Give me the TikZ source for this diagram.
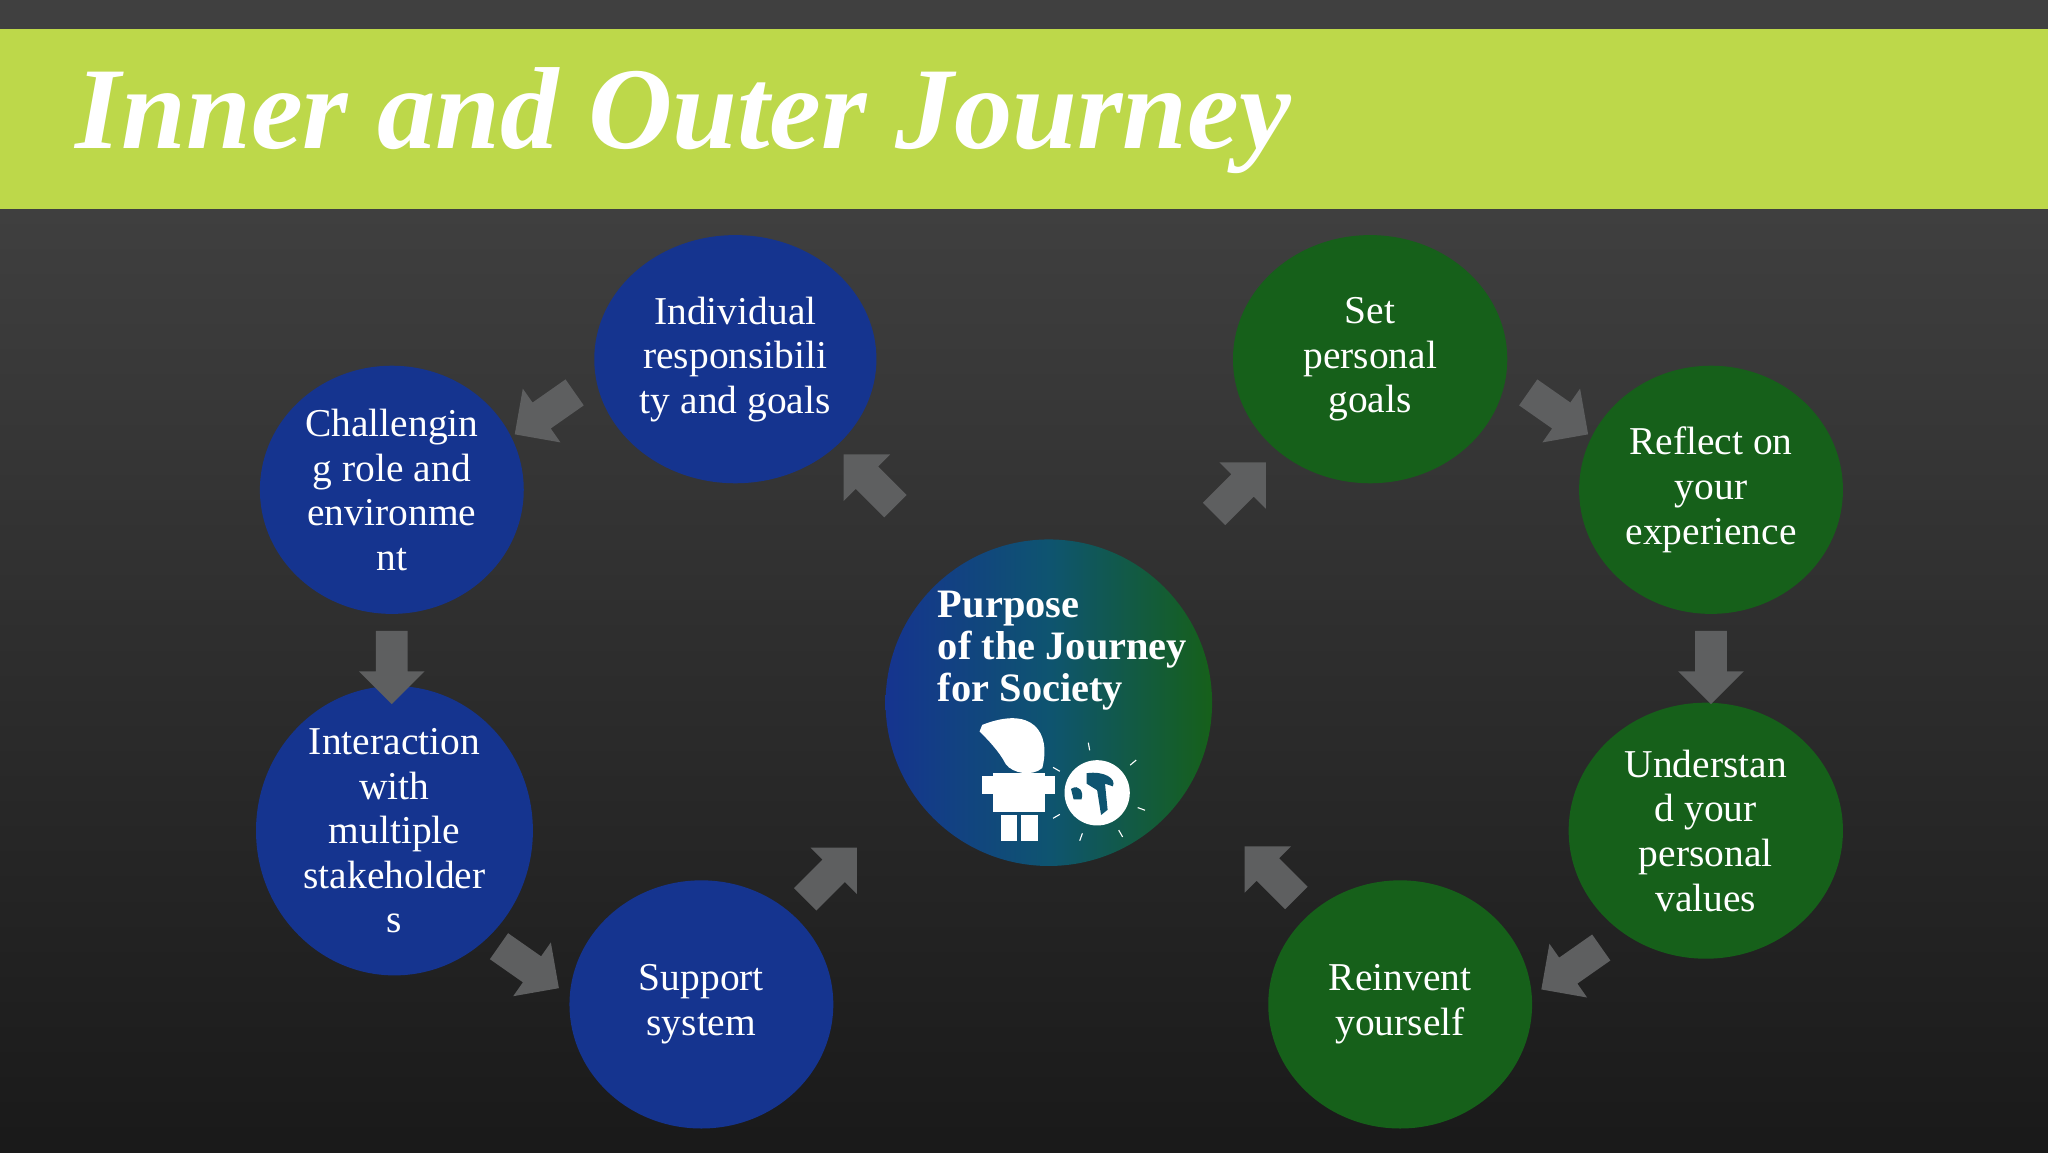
\documentclass[tikz,border=0pt]{standalone}
\usepackage{fontspec}
\setmainfont{Liberation Serif}
\usepackage{graphicx}
\usetikzlibrary{shapes.arrows,shapes.geometric,calc}
\definecolor{bannergreen}{HTML}{BDD84A}
\definecolor{cblue}{HTML}{15348F}
\definecolor{cgreen}{HTML}{16601A}
\definecolor{cmid}{HTML}{0E5470}
\definecolor{arrgrey}{HTML}{5E5F60}
\tikzset{
  bubble/.style={ellipse,inner sep=0pt,text=white,align=center,font=\fontsize{43}{48.5}\selectfont},
  bluebub/.style={bubble,fill=cblue},
  greenbub/.style={bubble,fill=cgreen},
  blk/.style={single arrow,fill=arrgrey,minimum height=2.8cm,inner xsep=0pt,inner ysep=0.6cm,single arrow head extend=0.65cm,anchor=center},
}
\begin{document}
\begin{tikzpicture}[x=0.05cm,y=-0.05cm]
\useasboundingbox (0,0) rectangle (1568,882);
\shade[top color=black!72,bottom color=black!90] (0,0) rectangle (1568,882);
\fill[black!75] (0,0) rectangle (1568,22);
\fill[bannergreen] (0,22) rectangle (1568,160);
\node[anchor=west,text=white,inner sep=0pt] (title) at (58,92) {\resizebox{46.5cm}{!}{\bfseries\itshape Inner and Outer Journey}};
% blue
\node[bluebub,minimum width=216*0.05cm,minimum height=190*0.05cm] (ind) at (563,275) {Individual\\responsibili\\ty and goals};
\node[bluebub,minimum width=202*0.05cm,minimum height=190*0.05cm] (cha) at (300,375) {Challengin\\g role and\\environme\\nt};
\node[bluebub,minimum width=212*0.05cm,minimum height=196*0.05cm] (int) at (302,636) {Interaction\\with\\multiple\\stakeholder\\s};
\node[bluebub,minimum width=202*0.05cm,minimum height=190*0.05cm] (sup) at (537,769) {Support\\system};
% green
\node[greenbub,minimum width=210*0.05cm,minimum height=190*0.05cm] (set) at (1049,275) {Set\\personal\\goals};
\node[greenbub,minimum width=202*0.05cm,minimum height=190*0.05cm] (ref) at (1310,375) {Reflect on\\your\\experience};
\node[greenbub,minimum width=210*0.05cm,minimum height=196*0.05cm] (und) at (1306,636) {Understan\\d your\\personal\\values};
\node[greenbub,minimum width=202*0.05cm,minimum height=190*0.05cm] (rei) at (1072,769) {Reinvent\\yourself};
% center
\shade[left color=cblue,right color=cgreen,middle color=cmid] (803,538) circle[radius=125*0.05cm];
\node[circle,minimum size=250*0.05cm,inner sep=0pt] (cen) at (803,538) {};
\node[anchor=west,text=white,align=left,inner sep=0pt,font=\bfseries\fontsize{44}{46}\selectfont] (ctext) at (718,498) {Purpose\\of the Journey\\for Society};
% icon: child
\fill[white] (752,555) .. controls (790,540) and (805,560) .. (798,588) .. controls (790,595) and (775,592) .. (770,585) .. controls (765,575) and (755,565) .. (750,560) -- cycle;
\fill[white] (760,592) rectangle (800,622);
\fill[white] (752,594) rectangle (762,608);
\fill[white] (798,594) rectangle (808,608);
\fill[white] (766,624) rectangle (779,644);
\fill[white] (782,624) rectangle (795,644);
% globe
\node[circle,fill=white,minimum size=50*0.05cm,inner sep=0pt] (glb) at (840,607) {};
\fill[cmid] (832,592) .. controls (845,590) and (855,596) .. (852,602) -- (846,600) -- (848,620) -- (843,624) -- (840,605) -- (832,600) -- cycle;
\fill[cmid] (820,604) .. controls (826,600) and (830,606) .. (828,612) -- (822,612) -- cycle;
\foreach \a in {-150,-100,-40,20,60,110,150,190} \draw[white,line width=1.2pt] ($(840,607)+(\a:33)$) -- ($(840,607)+(\a:39)$);
% arrows
\node[blk,rotate=-145] (a1) at (422,313) {};
\node[blk,rotate=-90] (a2) at (300,505) {};
\node[blk,rotate=-35] (a3) at (400,737) {};
\node[blk,rotate=45] (a4) at (632,673) {};
\node[blk,rotate=135] (a5) at (670,372) {};
\node[blk,rotate=45] (a6) at (945,378) {};
\node[blk,rotate=-35] (a7) at (1188,313) {};
\node[blk,rotate=-90] (a8) at (1310,505) {};
\node[blk,rotate=-145] (a9) at (1208,738) {};
\node[blk,rotate=135] (a10) at (977,672) {};
\end{tikzpicture}
\end{document}
